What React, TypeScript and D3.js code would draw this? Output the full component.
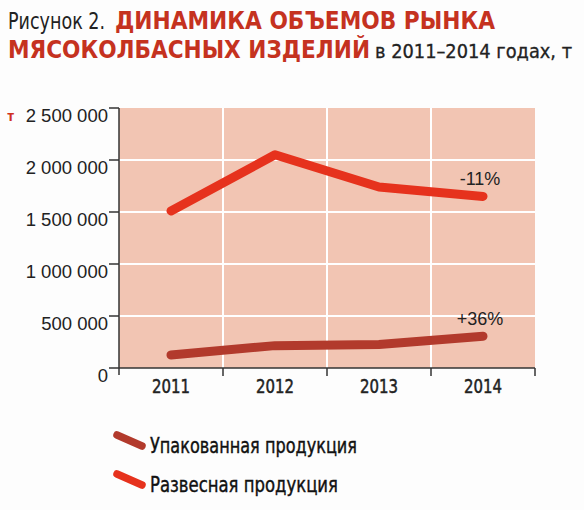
import React from "react";
import * as d3 from "d3";

const years = ["2011", "2012", "2013", "2014"];
const packed = [125000, 215000, 225000, 305000];
const loose = [1510000, 2050000, 1740000, 1650000];
const yTicks = [0, 500000, 1000000, 1500000, 2000000, 2500000];
const seriesNames = ["Упакованная продукция", "Развесная продукция"];
const changeLabels = ["+36%", "-11%"];

const W = 584,
  H = 510;
const margin = { left: 119, right: 49, top: 108, bottom: 142 };
const narrow = "'DejaVu Sans Condensed', 'DejaVu Sans', sans-serif";
const sans = "'Liberation Sans', Arial, sans-serif";
const darkRed = "#b23a2c";
const brightRed = "#e6321d";
const titleRed = "#c5321f";

export default function App() {
  const x = d3.scaleBand().domain(years).range([margin.left, W - margin.right]);
  const y = d3.scaleLinear().domain([0, 2500000]).range([H - margin.bottom, margin.top]);
  const cx = (d: string) => (x(d) as number) + x.bandwidth() / 2;
  const fmt = (v: number) => d3.format(",")(v).replace(/,/g, " ");

  const line = d3
    .line<number>()
    .x((_, i) => cx(years[i]))
    .y((d) => y(d))
    .curve(d3.curveLinear);

  const series = [
    { name: seriesNames[0], values: packed, color: darkRed, label: changeLabels[0], len: 207 },
    { name: seriesNames[1], values: loose, color: brightRed, label: changeLabels[1], len: 188 },
  ];

  const [x0, x1] = x.range();
  const [y0, y1] = y.range();
  const boundaries = years.map((d) => x(d) as number).concat([x1]);

  return (
    <svg width={W} height={H} style={{ position: "absolute", left: 0, top: 0, background: "#fdfdfd" }}>
      {/* title */}
      <text x={8} y={29} fontFamily={narrow} fontSize={23} fontWeight={300} fill="#222" textLength={97} lengthAdjust="spacingAndGlyphs">
        Рисунок 2.
      </text>
      <text x={115} y={29} fontFamily={narrow} fontSize={24} fontWeight="bold" fill={titleRed} textLength={380} lengthAdjust="spacingAndGlyphs">
        ДИНАМИКА ОБЪЕМОВ РЫНКА
      </text>
      <text x={8} y={58} fontFamily={narrow} fontSize={24} fontWeight="bold" fill={titleRed} textLength={362} lengthAdjust="spacingAndGlyphs">
        МЯСОКОЛБАСНЫХ ИЗДЕЛИЙ
      </text>
      <text x={375} y={58} fontFamily={narrow} fontSize={19} fill="#222" stroke="#222" strokeWidth={0.3} textLength={197} lengthAdjust="spacingAndGlyphs">
        в 2011–2014 годах, т
      </text>

      {/* plot background */}
      <rect x={x0} y={y1} width={x1 - x0} height={y0 - y1} fill="#f2c5b3" />
      {yTicks.slice(1, -1).map((t) => (
        <line key={t} x1={x0} x2={x1} y1={y(t)} y2={y(t)} stroke="#fff" strokeWidth={2} />
      ))}
      {boundaries.slice(1, -1).map((b) => (
        <line key={b} x1={b} x2={b} y1={y1} y2={y0} stroke="#fff" strokeWidth={2} />
      ))}

      {/* axes */}
      <line x1={x0} x2={x0} y1={y1} y2={y0 + 7} stroke="#333" strokeWidth={1.5} />
      <line x1={x0} x2={x1} y1={y0} y2={y0} stroke="#333" strokeWidth={1.5} />
      {boundaries.slice(1).map((b) => (
        <line key={b} x1={b} x2={b} y1={y0} y2={y0 + 8} stroke="#333" strokeWidth={1.5} />
      ))}
      {yTicks.map((t) => (
        <g key={t}>
          <line x1={x0 - 10} x2={x0} y1={y(t)} y2={y(t)} stroke="#333" strokeWidth={1.5} />
          <text x={x0 - 11} y={y(t) + 13.5} textAnchor="end" fontFamily={sans} fontSize={18.5} fill="#222">
            {fmt(t)}
          </text>
        </g>
      ))}
      <text x={7} y={121} fontFamily={sans} fontSize={15} fontWeight="bold" fill="#d0301f">
        т
      </text>
      {years.map((d) => (
        <text key={d} x={cx(d)} y={393} textAnchor="middle" fontFamily={narrow} fontSize={20} fill="#222" stroke="#222" strokeWidth={0.5} textLength={38} lengthAdjust="spacingAndGlyphs">
          {d}
        </text>
      ))}

      {/* lines */}
      {series.map((s) => (
        <g key={s.name}>
          <path
            d={line(s.values) as string}
            fill="none"
            stroke={s.color}
            strokeWidth={9}
            strokeLinecap="round"
            strokeLinejoin="round"
          />
          <text
            x={cx(years[years.length - 1]) - 3}
            y={y(s.values[s.values.length - 1]) - 11}
            textAnchor="middle"
            fontFamily={sans}
            fontSize={18}
            fill="#222"
          >
            {s.label}
          </text>
        </g>
      ))}

      {/* legend */}
      {series.map((s, i) => {
        const ly = 440 + i * 39;
        return (
          <g key={s.name}>
            <line x1={117} y1={ly - 5} x2={142} y2={ly + 6} stroke={s.color} strokeWidth={7.5} strokeLinecap="round" />
            <text x={150} y={ly + 13} fontFamily={narrow} fontSize={21} fill="#111" stroke="#111" strokeWidth={0.4} textLength={s.len} lengthAdjust="spacingAndGlyphs">
              {s.name}
            </text>
          </g>
        );
      })}
    </svg>
  );
}
